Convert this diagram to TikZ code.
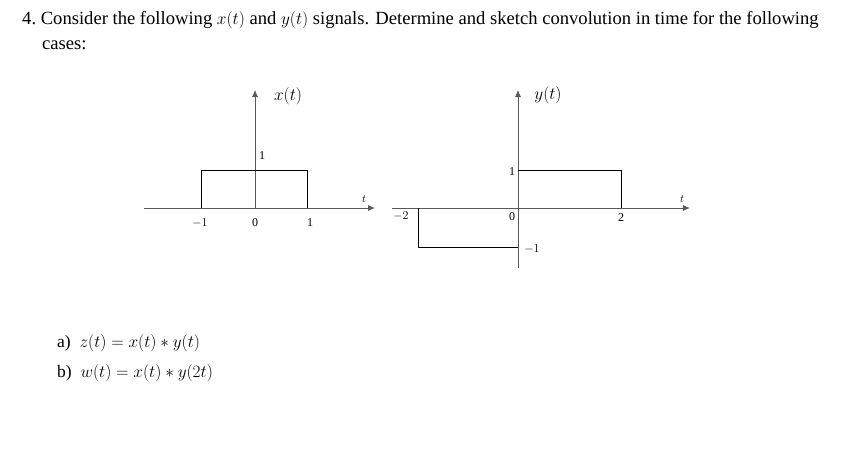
\documentclass[tikz,border=0pt]{standalone}
\usepackage{fontspec}
\setmainfont{Liberation Serif}
\usetikzlibrary{arrows.meta}
\begin{document}
\begin{tikzpicture}[x=1pt,y=-1pt,
  ax/.style={gray!70!black,line width=0.8pt,-{Latex[length=7pt,width=6pt]}},
  sig/.style={black,line width=1pt},
  lbl/.style={font=\fontsize{12}{14}\selectfont,inner sep=0pt},
  fn/.style={font=\fontsize{16}{18}\selectfont\itshape,inner sep=0pt}]
\useasboundingbox (0,0) rectangle (856,455);
\node[anchor=west,inner sep=0pt,font=\fontsize{18.6}{22}\selectfont] (title) at (22,20) {4.\ Consider the following $x(t)$ and $y(t)$ signals. Determine and sketch convolution in time for the following};
\node[anchor=west,inner sep=0pt,font=\fontsize{18.6}{22}\selectfont] (cases) at (42,45) {cases:};
% x(t)
\coordinate (xo) at (255,208);
\coordinate (xl) at (144,208);
\coordinate (xr) at (375,208);
\coordinate (xt) at (255,90);
\draw[ax] (xl) -- (xr);
\draw[ax] (xo) -- (xt);
\coordinate (xa) at (201,208); \coordinate (xb) at (201,170);
\coordinate (xc) at (307,170); \coordinate (xd) at (307,208);
\draw[sig] (xa) -- (xb) -- (xc) -- (xd);
\node[fn] (xlab) at (288,96) {$x(t)$};
\node[lbl] (x1) at (262,156) {1};
\node[lbl] (xm1) at (200,223) {$-1$};
\node[lbl] (x0) at (255,223) {0};
\node[lbl] (xp1) at (310,223) {1};
\node[lbl,font=\fontsize{11}{12}\selectfont\itshape] (xtl) at (364,199) {$t$};
% y(t)
\coordinate (yo) at (518,208);
\coordinate (yl) at (392,208);
\coordinate (yr) at (690,208);
\coordinate (yb) at (518,268);
\coordinate (yt) at (518,90);
\draw[ax] (yl) -- (yr);
\draw[ax] (yb) -- (yt);
\coordinate (ya) at (418,208); \coordinate (yb1) at (418,247);
\coordinate (yc) at (518,247);
\draw[sig] (ya) -- (yb1) -- (yc);
\coordinate (yd) at (518,170); \coordinate (ye) at (621,170); \coordinate (yf) at (621,208);
\draw[sig] (yd) -- (ye) -- (yf);
\node[fn] (ylab) at (548,95) {$y(t)$};
\node[lbl] (y1) at (512,172) {1};
\node[lbl] (y0) at (512,217) {0};
\node[lbl] (ym2) at (401,216) {$-2$};
\node[lbl] (y2) at (621,218) {2};
\node[lbl] (ym1) at (532,249) {$-1$};
\node[lbl,font=\fontsize{11}{12}\selectfont\itshape] (ytl) at (682,199) {$t$};
% parts
\node[anchor=west,inner sep=0pt,font=\fontsize{17.5}{20}\selectfont] (pa) at (57,343) {a)\ \ $z(t)=x(t)*y(t)$};
\node[anchor=west,inner sep=0pt,font=\fontsize{17.5}{20}\selectfont] (pb) at (57,373) {b)\ \ $w(t)=x(t)*y(2t)$};
\end{tikzpicture}
\end{document}
